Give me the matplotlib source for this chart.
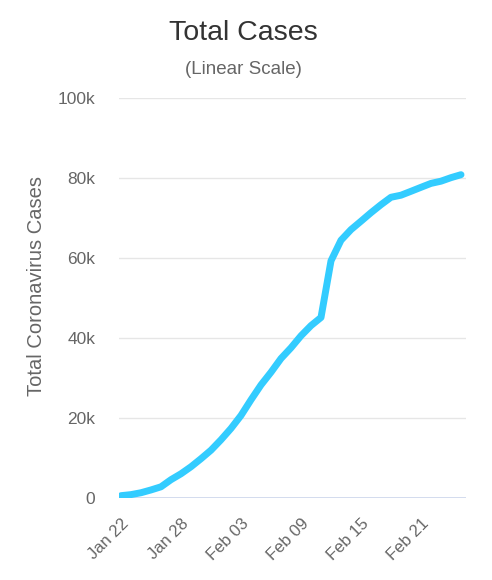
import matplotlib.pyplot as plt

dates = ["Jan 22", "Jan 23", "Jan 24", "Jan 25", "Jan 26", "Jan 27", "Jan 28",
         "Jan 29", "Jan 30", "Jan 31", "Feb 01", "Feb 02", "Feb 03", "Feb 04",
         "Feb 05", "Feb 06", "Feb 07", "Feb 08", "Feb 09", "Feb 10", "Feb 11",
         "Feb 12", "Feb 13", "Feb 14", "Feb 15", "Feb 16", "Feb 17", "Feb 18",
         "Feb 19", "Feb 20", "Feb 21", "Feb 22", "Feb 23", "Feb 24", "Feb 25"]
total_cases = [580, 845, 1317, 2015, 2800, 4581, 6058, 7813, 9823, 11950,
               14553, 17391, 20630, 24545, 28266, 31439, 34876, 37552, 40553,
               43099, 45134, 59287, 64438, 67100, 69197, 71329, 73332, 75184,
               75700, 76677, 77673, 78651, 79205, 80087, 80828]
y_ticks = [0, 20000, 40000, 60000, 80000, 100000]
y_tick_labels = ["0", "20k", "40k", "60k", "80k", "100k"]

plt.rcParams["font.family"] = ["Liberation Sans", "DejaVu Sans"]

fig = plt.figure(figsize=(4.92, 5.8), dpi=100)
ax = fig.add_axes([119 / 492, 1 - 498 / 580, 347 / 492, 400 / 580])

x = list(range(len(dates)))
ax.plot(x, total_cases, color="#33ccff", linewidth=5, solid_capstyle="round",
        solid_joinstyle="round", zorder=3)

ax.set_xlim(-0.2, len(dates) - 0.5)
ax.set_ylim(0, 100000)

ax.set_yticks(y_ticks)
ax.set_yticklabels(y_tick_labels)
for t in y_ticks[1:]:
    ax.axhline(t, color="#e6e6e6", linewidth=1, zorder=1)
ax.axhline(0, color="#ccd6eb", linewidth=1.2, zorder=2)

ax.set_xticks(x[::6])
ax.set_xticklabels(dates[::6], rotation=45, ha="right", va="top",
                   rotation_mode="anchor")

for side in ["top", "right", "left", "bottom"]:
    ax.spines[side].set_visible(False)
ax.tick_params(axis="both", length=0, colors="#666666")
ax.tick_params(axis="y", pad=17, labelsize=12.5)
ax.tick_params(axis="x", pad=13, labelsize=12)

ax.set_ylabel("Total Coronavirus Cases", fontsize=14.5, color="#666666")
ax.yaxis.set_label_coords(-0.21, 0.53)

fig.text(0.495, 1 - 33 / 580, "Total Cases", ha="center", va="center",
         fontsize=20.5, color="#333333")
fig.text(0.495, 1 - 70 / 580, "(Linear Scale)", ha="center", va="center",
         fontsize=13.5, color="#666666")

fig.savefig("out.png", dpi=100, facecolor="white")
